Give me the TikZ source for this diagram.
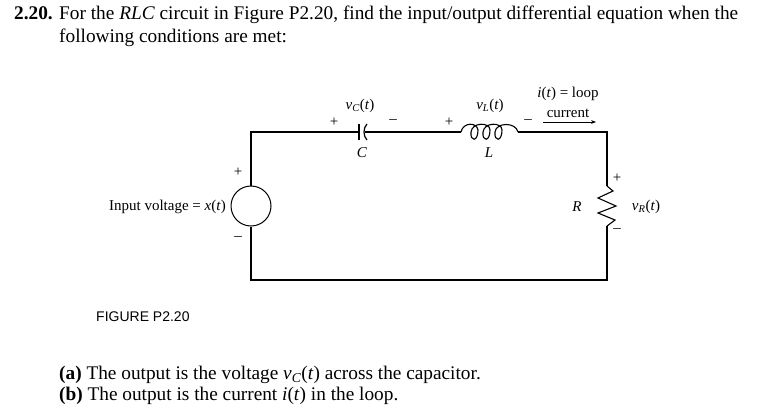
\documentclass[tikz,border=0pt]{standalone}
\usepackage{fontspec}
\setmainfont{Liberation Serif}
\newfontfamily\sff{Liberation Sans}
\newcommand{\vv}[2]{\textit{v}\textsubscript{\textit{#1}}(\textit{#2})}
\usetikzlibrary{decorations.pathmorphing,arrows.meta}
\begin{document}
\begin{tikzpicture}[x=1pt,y=-1pt,
  wire/.style={line width=1.1pt},
  big/.style={font=\fontsize{19.3}{22}\selectfont,anchor=base west,inner sep=0},
  lab/.style={font=\fontsize{15}{17}\selectfont,inner sep=1pt},
  sgn/.style={font=\fontsize{15}{17}\selectfont,inner sep=0}]
\useasboundingbox[fill=white] (0,0) rectangle (763,409);
% title
\node[big] (t1) at (14,20) {\textbf{2.20.} For the \textit{RLC} circuit in Figure P2.20, find the input/output differential equation when the};
\node[big] (t2) at (59,43) {following conditions are met:};
% circuit coordinates
\coordinate (tl) at (251,132);
\coordinate (tr) at (607,132);
\coordinate (br) at (607,280);
\coordinate (bl) at (251,280);
\node[circle,draw,line width=1pt,minimum size=40pt,inner sep=0] (src) at (251,206) {};
\coordinate (c1) at (359,132); \coordinate (c2) at (365,132);
\coordinate (l1) at (461,132); \coordinate (l2) at (518,132);
\coordinate (r1) at (607,186); \coordinate (r2) at (607,226);
\draw[wire] (src.north) -- (tl) -- (c1);
\draw[wire] (c2) -- (l1);
\draw[wire] (l2) -- (tr) -- (r1);
\draw[wire] (r2) -- (br) -- (bl) -- (src.south);
% capacitor
\draw[line width=1.2pt] (359,124) -- (359,140);
\draw[line width=1.2pt] (367,124) .. controls (363,128) and (363,136) .. (367,140);
% inductor
\draw[wire] (l1) .. controls (463,122) and (477,122) .. (478,130)
  .. controls (478,142) and (470,142) .. (471,132)
  .. controls (472,122) and (490,122) .. (490,130)
  .. controls (490,142) and (482,142) .. (483,132)
  .. controls (484,122) and (502,122) .. (502,130)
  .. controls (502,142) and (494,142) .. (495,132)
  .. controls (496,122) and (516,122) .. (l2);
% resistor
\draw[wire] (r1) -- (613,191) -- (598,198) -- (616,206) -- (598,213) -- (615,220) -- (r2);
% labels
\node[lab] (vc) at (360,106) {\vv{C}{t}};
\node[sgn] (cp) at (334,122) {+};
\node[sgn] (cm) at (393,122) {--};
\node[lab] (cC) at (362,153) {\textit{C}};
\node[lab] (vl) at (490,106) {\vv{L}{t}};
\node[sgn] (lp) at (449,122) {+};
\node[sgn] (lm) at (528,122) {--};
\node[lab] (lL) at (489,153) {\textit{L}};
\node[lab] (it) at (568,94) {\textit{i}(\textit{t}) = loop};
\node[lab] (cur) at (568,113) {current};
\coordinate (a1) at (543,122); \coordinate (a2) at (596,122);
\draw[-{Stealth[length=5pt]},line width=0.7pt] (a1) -- (a2);
\node[sgn] (sp) at (238,172) {+};
\node[sgn] (sm) at (238,239) {--};
\node[lab,anchor=east] (inp) at (227,207) {Input voltage = \textit{x}(\textit{t})};
\node[sgn] (rp) at (617,178) {+};
\node[sgn] (rm) at (617,231) {--};
\node[lab] (R) at (577,207) {\textit{R}};
\node[lab] (vr) at (646,207) {\vv{R}{t}};
\node[font=\sff\fontsize{14}{16}\selectfont,anchor=base west,inner sep=0] (fig) at (96,321) {FIGURE P2.20};
\node[big] (pa) at (59,379) {\textbf{(a)} The output is the voltage \vv{C}{t} across the capacitor.};
\node[big] (pb) at (59,400) {\textbf{(b)} The output is the current \textit{i}(\textit{t}) in the loop.};
\end{tikzpicture}
\end{document}
